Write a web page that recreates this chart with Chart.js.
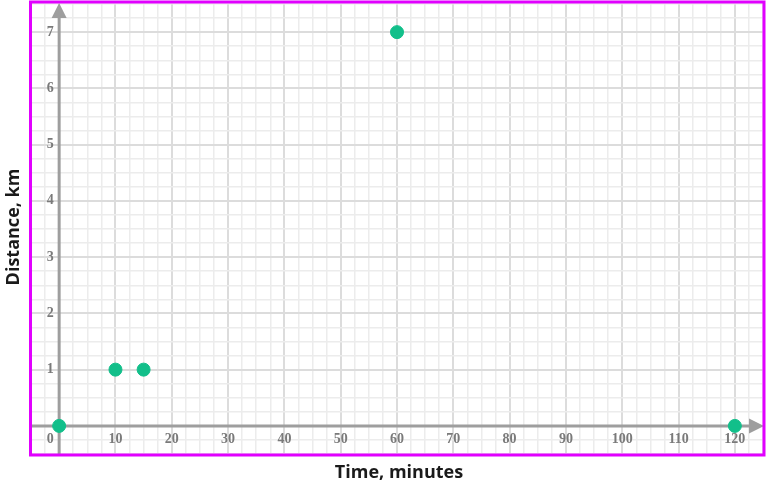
<!DOCTYPE html>
<html>
<head>
<meta charset="utf-8">
<script src="https://cdn.jsdelivr.net/npm/chart.js@4"></script>
<style>
html,body{margin:0;padding:0;background:#fff;}
#wrap{width:768px;height:487px;position:relative;}
</style>
</head>
<body>
<div id="wrap"><canvas id="c" width="768" height="487"></canvas></div>
<script>
const timeMinutes = [0, 10, 15, 60, 120];
const distanceKm = [0, 1, 1, 7, 0];
const xTickLabels = [0, 10, 20, 30, 40, 50, 60, 70, 80, 90, 100, 110, 120];
const yTickLabels = [1, 2, 3, 4, 5, 6, 7];
const xTitle = 'Time, minutes';
const yTitle = 'Distance, km';

const AXIS = '#9e9e9e';
const isMajorX = v => Math.abs(v / 10 - Math.round(v / 10)) < 1e-6;
const isMajorY = v => Math.abs(v - Math.round(v)) < 1e-6;

const overlay = {
  id: 'overlay',
  beforeDatasetsDraw(chart) {
    const {ctx, chartArea: a, scales: {x, y}} = chart;
    const x0 = x.getPixelForValue(0), y0 = y.getPixelForValue(0);
    ctx.save();
    // axes
    ctx.strokeStyle = AXIS; ctx.fillStyle = AXIS; ctx.lineWidth = 3;
    ctx.beginPath(); ctx.moveTo(a.left, y0); ctx.lineTo(a.right - 12, y0); ctx.stroke();
    ctx.beginPath(); ctx.moveTo(x0, a.bottom); ctx.lineTo(x0, a.top + 12); ctx.stroke();
    // arrows
    ctx.beginPath(); ctx.moveTo(a.right + 1, y0); ctx.lineTo(a.right - 14, y0 - 7.5); ctx.lineTo(a.right - 14, y0 + 7.5); ctx.closePath(); ctx.fill();
    ctx.beginPath(); ctx.moveTo(x0, a.top - 1); ctx.lineTo(x0 - 7.5, a.top + 14); ctx.lineTo(x0 + 7.5, a.top + 14); ctx.closePath(); ctx.fill();
    // tick labels
    ctx.fillStyle = '#7a7a7a';
    ctx.font = 'bold 14px "Liberation Serif", "DejaVu Serif", serif';
    ctx.textAlign = 'center'; ctx.textBaseline = 'middle';
    xTickLabels.forEach(v => {
      const px = v === 0 ? x0 - 9 : x.getPixelForValue(v);
      ctx.fillText(String(v), px, y0 + 14);
    });
    yTickLabels.forEach(v => {
      ctx.fillText(String(v), x0 - 9, y.getPixelForValue(v));
    });
    ctx.restore();
  },
  afterDraw(chart) {
    const {ctx, chartArea: a} = chart;
    ctx.save();
    ctx.strokeStyle = '#e100ff'; ctx.lineWidth = 3;
    ctx.strokeRect(a.left - 0.5, a.top - 2, a.right - a.left + 1.5, a.bottom - a.top + 3);
    ctx.fillStyle = '#1a1a1a';
    ctx.font = 'bold 18px "Open Sans", Lato, sans-serif';
    ctx.textAlign = 'center'; ctx.textBaseline = 'middle';
    ctx.fillText(xTitle, 399, 473);
    ctx.translate(14, 227);
    ctx.rotate(-Math.PI / 2);
    ctx.fillText(yTitle, 0, 0);
    ctx.restore();
  }
};

new Chart(document.getElementById('c'), {
  type: 'scatter',
  data: {
    datasets: [{
      data: timeMinutes.map((t, i) => ({x: t, y: distanceKm[i]})),
      backgroundColor: '#12bf8a',
      borderColor: '#12bf8a',
      pointRadius: 6.5,
      pointHoverRadius: 6.5,
      clip: false
    }]
  },
  options: {
    responsive: false,
    animation: false,
    devicePixelRatio: 1,
    layout: {autoPadding: false, padding: {left: 31, right: 5, top: 4, bottom: 33}},
    plugins: {legend: {display: false}, tooltip: {enabled: false}},
    scales: {
      x: {
        type: 'linear', min: -5, max: 125,
        ticks: {display: false, stepSize: 2.5},
        border: {display: false},
        grid: {
          drawTicks: false,
          color: c => isMajorX(c.tick.value) ? '#dcdcdc' : '#ececec',
          lineWidth: c => isMajorX(c.tick.value) ? 2 : 1.5
        }
      },
      y: {
        type: 'linear', min: -0.5, max: 7.5,
        ticks: {display: false, stepSize: 0.25},
        border: {display: false},
        grid: {
          drawTicks: false,
          color: c => isMajorY(c.tick.value) ? '#dcdcdc' : '#ececec',
          lineWidth: c => isMajorY(c.tick.value) ? 2 : 1.5
        }
      }
    }
  },
  plugins: [overlay]
});
</script>
</body>
</html>
